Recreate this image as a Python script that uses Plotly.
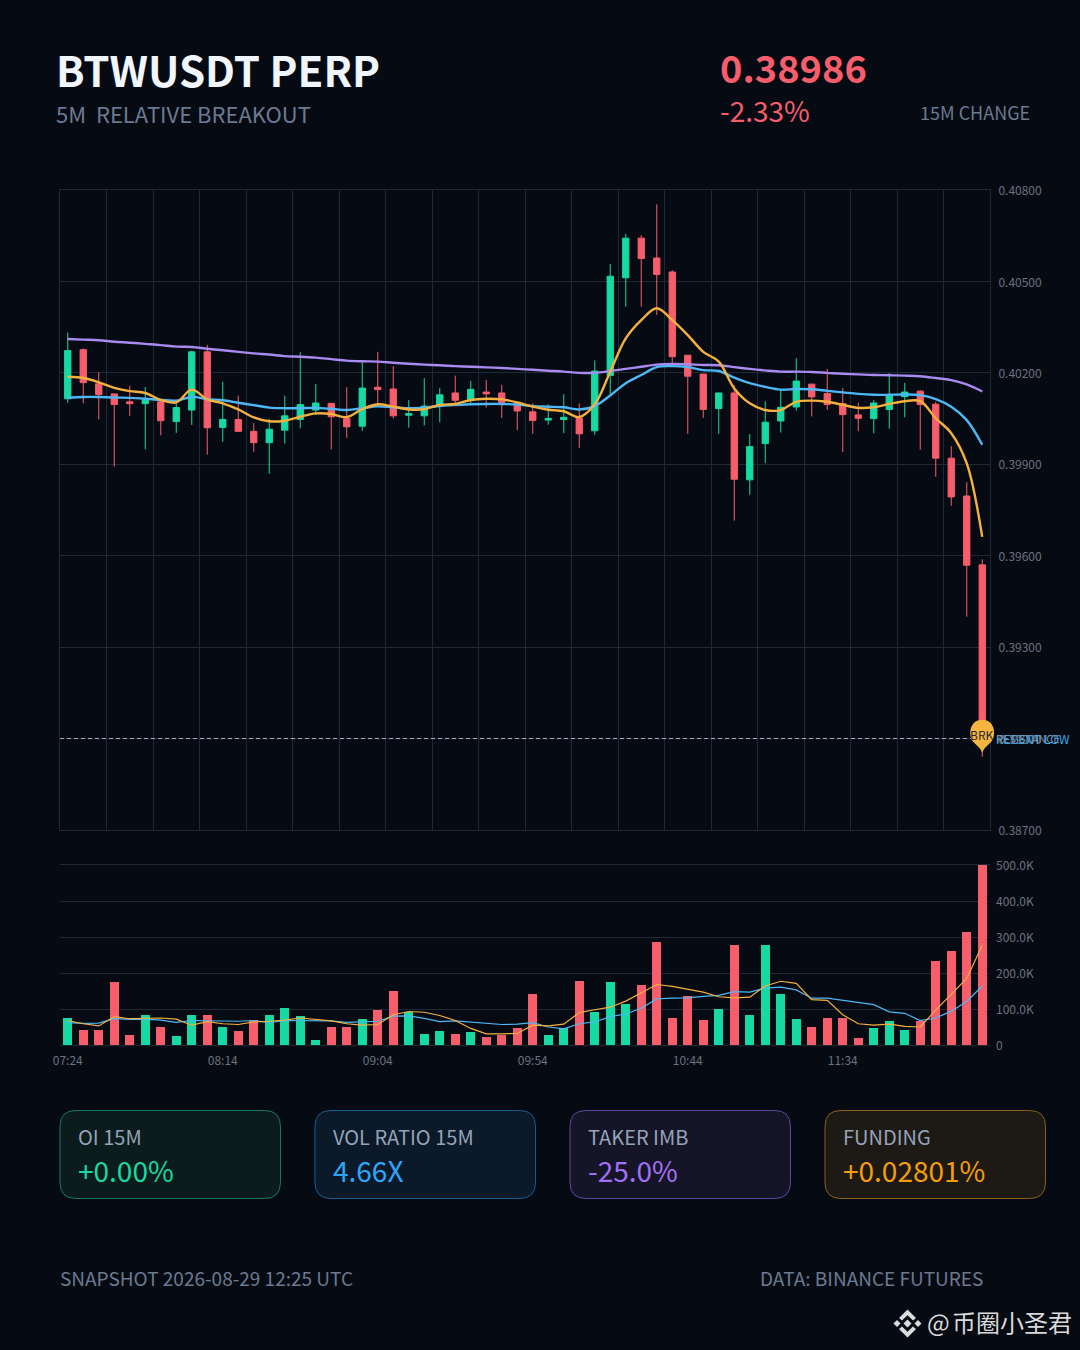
import plotly.graph_objects as go

W = 1080
H = 1350
FONT = 'Noto Sans CJK SC'

BG = '#060b13'
GRID = '#1e2937'
UP = '#16d9a3'
DOWN = '#f85d6c'
ORANGE = '#f5b03e'
BLUE = '#4db8f5'
PURPLE = '#a98bf0'
MUTED = '#6b7a90'

# plot edges in page pixels
LEFT, RIGHT = 60, 990
PRICE_TOP, PRICE_BOTTOM = 190, 830
VOL_TOP, VOL_BOTTOM = 865, 1045
PRICE_MIN, PRICE_MAX = 0.387, 0.408

CANDLE_OPEN = [
    0.40115, 0.40276, 0.40164, 0.40131, 0.40105, 0.40099, 0.40105, 0.40040, 0.40078, 0.40269,
    0.40021, 0.40047, 0.40008, 0.39971, 0.40012, 0.40047, 0.40078, 0.40100, 0.40050, 0.40025,
    0.40153, 0.40147, 0.40061, 0.40059, 0.40095, 0.40134, 0.40113, 0.40137, 0.40134, 0.40100,
    0.40072, 0.40045, 0.40047, 0.40052, 0.40010, 0.40191, 0.40512, 0.40642, 0.40577, 0.40531,
    0.40258, 0.40196, 0.40083, 0.40134, 0.39849, 0.39968, 0.40042, 0.40088, 0.40163, 0.40132,
    0.40099, 0.40062, 0.40050, 0.40080, 0.40122, 0.40140, 0.40097, 0.39920, 0.39796, 0.39570,
]
CANDLE_HIGH = [
    0.40332, 0.40280, 0.40202, 0.40131, 0.40158, 0.40153, 0.40105, 0.40100, 0.40273, 0.40292,
    0.40171, 0.40125, 0.40035, 0.40049, 0.40125, 0.40268, 0.40163, 0.40100, 0.40153, 0.40237,
    0.40269, 0.40222, 0.40111, 0.40183, 0.40150, 0.40191, 0.40174, 0.40177, 0.40160, 0.40100,
    0.40100, 0.40097, 0.40130, 0.40100, 0.40241, 0.40557, 0.40656, 0.40652, 0.40753, 0.40537,
    0.40258, 0.40196, 0.40134, 0.40160, 0.39999, 0.40107, 0.40144, 0.40248, 0.40163, 0.40213,
    0.40150, 0.40102, 0.40111, 0.40199, 0.40167, 0.40143, 0.40105, 0.39959, 0.39841, 0.39588,
]
CANDLE_LOW = [
    0.40102, 0.40100, 0.40047, 0.39892, 0.40059, 0.39949, 0.39995, 0.40003, 0.40029, 0.39932,
    0.39974, 0.40008, 0.39941, 0.39869, 0.39968, 0.40018, 0.40062, 0.39949, 0.39987, 0.40010,
    0.40095, 0.40050, 0.40020, 0.40028, 0.40038, 0.40091, 0.40095, 0.40086, 0.40052, 0.40012,
    0.40000, 0.40030, 0.40002, 0.39954, 0.39997, 0.40124, 0.40417, 0.40417, 0.40390, 0.40224,
    0.40000, 0.40052, 0.40000, 0.39715, 0.39800, 0.39904, 0.40004, 0.40076, 0.40057, 0.40078,
    0.39940, 0.40009, 0.40002, 0.40017, 0.40054, 0.39948, 0.39859, 0.39764, 0.39400, 0.38940,
]
CANDLE_CLOSE = [
    0.40273, 0.40168, 0.40129, 0.40096, 0.40099, 0.40110, 0.40043, 0.40086, 0.40269, 0.40020,
    0.40047, 0.40008, 0.39971, 0.40015, 0.40059, 0.40096, 0.40101, 0.40056, 0.40023, 0.40150,
    0.40145, 0.40059, 0.40066, 0.40091, 0.40128, 0.40110, 0.40146, 0.40131, 0.40103, 0.40075,
    0.40044, 0.40050, 0.40054, 0.40000, 0.40206, 0.40517, 0.40642, 0.40575, 0.40523, 0.40253,
    0.40189, 0.40080, 0.40134, 0.39851, 0.39958, 0.40038, 0.40087, 0.40173, 0.40121, 0.40096,
    0.40063, 0.40051, 0.40101, 0.40125, 0.40137, 0.40096, 0.39920, 0.39793, 0.39569, 0.38986,
]
MA_FAST = [
    0.40187, 0.40183, 0.40169, 0.40151, 0.40140, 0.40134, 0.40111, 0.40103, 0.40145, 0.40113,
    0.40100, 0.40080, 0.40054, 0.40041, 0.40043, 0.40056, 0.40067, 0.40065, 0.40055, 0.40081,
    0.40097, 0.40089, 0.40080, 0.40081, 0.40095, 0.40098, 0.40111, 0.40115, 0.40113, 0.40103,
    0.40089, 0.40079, 0.40074, 0.40055, 0.40097, 0.40204, 0.40313, 0.40373, 0.40412, 0.40373,
    0.40324, 0.40269, 0.40237, 0.40149, 0.40100, 0.40078, 0.40078, 0.40105, 0.40109, 0.40105,
    0.40095, 0.40085, 0.40087, 0.40098, 0.40107, 0.40107, 0.40051, 0.40002, 0.39903, 0.39662,
]
MA_MID = [
    0.40118, 0.40121, 0.40121, 0.40119, 0.40118, 0.40115, 0.40111, 0.40109, 0.40121, 0.40114,
    0.40110, 0.40102, 0.40094, 0.40086, 0.40084, 0.40084, 0.40085, 0.40082, 0.40078, 0.40084,
    0.40090, 0.40087, 0.40084, 0.40086, 0.40091, 0.40095, 0.40097, 0.40098, 0.40098, 0.40096,
    0.40091, 0.40089, 0.40087, 0.40080, 0.40091, 0.40126, 0.40166, 0.40193, 0.40219, 0.40222,
    0.40219, 0.40209, 0.40206, 0.40184, 0.40166, 0.40154, 0.40145, 0.40147, 0.40146, 0.40141,
    0.40136, 0.40131, 0.40128, 0.40128, 0.40129, 0.40127, 0.40114, 0.40089, 0.40045, 0.39964,
]
MA_SLOW = [
    0.40311, 0.40309, 0.40307, 0.40302, 0.40299, 0.40295, 0.40291, 0.40286, 0.40285, 0.40279,
    0.40274, 0.40269, 0.40264, 0.40260, 0.40255, 0.40253, 0.40250, 0.40245, 0.40240, 0.40238,
    0.40237, 0.40233, 0.40230, 0.40227, 0.40225, 0.40222, 0.40220, 0.40218, 0.40216, 0.40213,
    0.40210, 0.40207, 0.40204, 0.40200, 0.40200, 0.40206, 0.40213, 0.40220, 0.40227, 0.40229,
    0.40228, 0.40226, 0.40225, 0.40219, 0.40213, 0.40208, 0.40204, 0.40204, 0.40203, 0.40200,
    0.40197, 0.40195, 0.40193, 0.40192, 0.40191, 0.40189, 0.40183, 0.40176, 0.40162, 0.40139,
]
# volume in thousands
VOLUME = [
    75, 43, 43, 174, 29, 82, 50, 24, 83, 83,
    50, 40, 69, 84, 103, 81, 15, 50, 50, 73,
    97, 151, 93, 30, 40, 31, 35, 22, 27, 48,
    141, 28, 46, 177, 92, 176, 113, 167, 286, 74,
    136, 70, 101, 278, 82, 278, 143, 73, 49, 75,
    74, 20, 48, 68, 41, 68, 232, 262, 315, 500,
]
VOL_MA_FAST = [
    68, 59, 53, 79, 73, 75, 75, 72, 55, 65,
    59, 57, 64, 66, 69, 75, 70, 67, 59, 55,
    57, 84, 93, 91, 82, 68, 46, 31, 31, 32,
    55, 53, 58, 90, 98, 105, 122, 146, 168, 163,
    156, 147, 134, 131, 133, 164, 177, 171, 126, 124,
    84, 59, 55, 58, 52, 50, 97, 141, 185, 277,
]
VOL_MA_SLOW = [
    62, 60, 61, 73, 71, 72, 69, 63, 68, 67,
    66, 66, 68, 62, 68, 68, 67, 67, 63, 64,
    66, 80, 81, 74, 65, 67, 63, 60, 57, 58,
    62, 50, 45, 59, 64, 79, 86, 102, 128, 130,
    131, 135, 138, 148, 147, 158, 161, 153, 130, 130,
    124, 119, 112, 92, 88, 68, 75, 94, 121, 164,
]
TIME_LABELS = ['07:24', '08:14', '09:04', '09:54', '10:44', '11:34']
TIME_INDEX = [0, 10, 20, 30, 40, 50]
PRICE_TICKS = [0.387, 0.390, 0.393, 0.396, 0.399, 0.402, 0.405, 0.408]
VOL_TICKS = [0, 100, 200, 300, 400, 500]
VOL_TICK_LABELS = ['0', '100.0K', '200.0K', '300.0K', '400.0K', '500.0K']
RECENT_LOW = 0.39

CARD_TITLES = ['OI 15M', 'VOL RATIO 15M', 'TAKER IMB', 'FUNDING']
CARD_VALUES = ['+0.00%', '4.66X', '-25.0%', '+0.02801%']
CARD_LEFT = [60, 315, 570, 825]
CARD_COLORS = ['#16d9a3', '#2ea6f7', '#a070f5', '#f59e0b']
CARD_FILLS = ['#0c1c1c', '#0b1929', '#161528', '#1d1915']
CARD_BORDERS = ['#127c62', '#1b5d90', '#5c4a9e', '#8c5f1c']


def px(x):
    return x / W


def py(y):
    return 1 - y / H


def text(label, x, y, size, color, anchor='left', bold=False):
    # annotations sit about 2px in from the anchor, so pull them back
    x = x - 2 if anchor == 'left' else x + 2
    return dict(text='<b>%s</b>' % label if bold else label, xref='paper', yref='paper',
                x=px(x), y=py(y - 2), xanchor=anchor, yanchor='middle', showarrow=False,
                font=dict(family=FONT, size=size, color=color))


def rounded(x0, y0, x1, y1, r):
    pts = [('M', x0 + r, y0), ('L', x1 - r, y0), ('Q', x1, y0, x1, y0 + r), ('L', x1, y1 - r),
           ('Q', x1, y1, x1 - r, y1), ('L', x0 + r, y1), ('Q', x0, y1, x0, y1 - r),
           ('L', x0, y0 + r), ('Q', x0, y0, x0 + r, y0)]
    path = ''
    for p in pts:
        coords = ['%.5f,%.5f' % (px(p[i]), py(p[i + 1])) for i in range(1, len(p), 2)]
        path += p[0] + ' '.join(coords) + ' '
    return path + 'Z'


def polygon(points):
    return 'M' + ' L'.join('%.5f,%.5f' % (px(a), py(b)) for a, b in points) + ' Z'


def logo_shapes(cx, cy):
    color = '#dcdcdc'
    parts = [
        [(cx, cy - 4), (cx + 4, cy), (cx, cy + 4), (cx - 4, cy)],
        [(cx - 14, cy), (cx - 10.5, cy - 3.5), (cx - 7, cy), (cx - 10.5, cy + 3.5)],
        [(cx + 14, cy), (cx + 10.5, cy - 3.5), (cx + 7, cy), (cx + 10.5, cy + 3.5)],
        [(cx, cy - 14), (cx + 8.5, cy - 5.5), (cx + 5.5, cy - 3), (cx, cy - 8.2), (cx - 5.5, cy - 3), (cx - 8.5, cy - 5.5)],
        [(cx, cy + 14), (cx + 8.5, cy + 5.5), (cx + 5.5, cy + 3), (cx, cy + 8.2), (cx - 5.5, cy + 3), (cx - 8.5, cy + 5.5)],
    ]
    return [dict(type='path', xref='paper', yref='paper', path=polygon(p), fillcolor=color, line=dict(width=0))
            for p in parts]


def pin_path(cx, tip):
    # drop shaped pin, its circle sits 24px above the tip (shapes on axes would be clipped)
    segs = [
        ('M', (0, 0)),
        ('C', (-1.5, -5), (-6, -8), (-9, -11.2)),
        ('C', (-14, -16), (-13.5, -33), (0, -33)),
        ('C', (13.5, -33), (14, -16), (9, -11.2)),
        ('C', (6, -8), (1.5, -5), (0, 0)),
    ]
    path = ''
    for seg in segs:
        path += seg[0] + ' '.join('%.5f,%.5f' % (px(cx + a), py(tip + b)) for a, b in seg[1:]) + ' '
    return path + 'Z'


index = list(range(len(VOLUME)))
bar_colors = [UP if c >= o else DOWN for o, c in zip(CANDLE_OPEN, CANDLE_CLOSE)]

fig = go.Figure()
fig.add_trace(go.Candlestick(
    x=index, open=CANDLE_OPEN, high=CANDLE_HIGH, low=CANDLE_LOW, close=CANDLE_CLOSE,
    increasing=dict(line=dict(color=UP, width=1), fillcolor=UP),
    decreasing=dict(line=dict(color=DOWN, width=1), fillcolor=DOWN),
    whiskerwidth=0, xaxis='x', yaxis='y'))
for values, color in [(MA_SLOW, PURPLE), (MA_MID, BLUE), (MA_FAST, ORANGE)]:
    fig.add_trace(go.Scatter(x=index, y=values, mode='lines', xaxis='x', yaxis='y',
                             line=dict(color=color, width=2.4, shape='spline', smoothing=1)))
fig.add_trace(go.Bar(x=index, y=VOLUME, width=0.56, marker=dict(color=bar_colors, line=dict(width=0)),
                     xaxis='x2', yaxis='y2'))
for values, color in [(VOL_MA_SLOW, BLUE), (VOL_MA_FAST, ORANGE)]:
    fig.add_trace(go.Scatter(x=index, y=values, mode='lines', xaxis='x2', yaxis='y2',
                             line=dict(color=color, width=1.2)))

# where the last candle's low lands on the page
pin_x = LEFT + (RIGHT - LEFT) * (index[-1] + 0.5) / len(index)
pin_tip = PRICE_TOP + (PRICE_MAX - CANDLE_LOW[-1]) / (PRICE_MAX - PRICE_MIN) * (PRICE_BOTTOM - PRICE_TOP) - 4

shapes = []
# recent low marker line
shapes.append(dict(type='line', xref='x', yref='y', x0=-0.5, x1=59.5, y0=RECENT_LOW, y1=RECENT_LOW,
                   line=dict(color='#9fb3c8', width=1, dash='4px,3px')))
shapes.append(dict(type='path', xref='paper', yref='paper', path=pin_path(pin_x, pin_tip),
                   fillcolor='#f5b33f', line=dict(width=0)))
for i in range(4):
    shapes.append(dict(type='path', xref='paper', yref='paper',
                       path=rounded(CARD_LEFT[i], 1110.5, CARD_LEFT[i] + 220.5, 1198.5, 16),
                       fillcolor=CARD_FILLS[i], line=dict(color=CARD_BORDERS[i], width=1)))
shapes += logo_shapes(907.5, 1323.5)

notes = [
    text('BTWUSDT PERP', 56, 70, 42, '#f1f5fd', bold=True),
    text('5M\u00a0\u00a0RELATIVE BREAKOUT', 56, 115, 22, MUTED),
    text('0.38986', 720, 69, 38, DOWN, bold=True),
    text('-2.33%', 720, 112, 28, DOWN),
    text('15M CHANGE', 1030, 114, 18, MUTED, anchor='right'),
    text('SNAPSHOT 2026-08-29 12:25 UTC', 60, 1279, 19, MUTED),
    text('DATA: BINANCE FUTURES', 983, 1279, 19, MUTED, anchor='right'),
    text('@', 927, 1323, 24, '#d9d9d9'),
    text('币圈小圣君', 1072, 1323, 24, '#d9d9d9', anchor='right'),
    # the two overlapping labels on the dashed line
    text('RECENT LOW', 996, 740.5, 12, '#38a8ec'),
    text('RESISTANCE', 996, 740.5, 11, '#7b93ad'),
    text('BRK', pin_x + 2, pin_tip - 16.5, 12, '#2a2a33', anchor='center'),
]
notes[-1]['x'] = px(pin_x)
for i in range(4):
    notes.append(text(CARD_TITLES[i], CARD_LEFT[i] + 18, 1138, 20, '#94a3b8'))
    notes.append(text(CARD_VALUES[i], CARD_LEFT[i] + 18, 1172, 28, CARD_COLORS[i]))

tick_font = dict(family=FONT, size=12, color='#6b7280')
fig.update_layout(
    width=W, height=H, margin=dict(l=0, r=0, t=0, b=0, autoexpand=False), autosize=False,
    paper_bgcolor=BG, plot_bgcolor=BG, showlegend=False, boxgap=0.42, bargap=0,
    shapes=shapes, annotations=notes,
    xaxis=dict(domain=[px(LEFT), px(RIGHT)], range=[-0.5, 59.5], tick0=-0.5, dtick=3, type='linear',
               showticklabels=False, gridcolor=GRID, gridwidth=1, zeroline=False, ticks='',
               showline=True, mirror=True, linecolor=GRID,
               rangeslider=dict(visible=False), anchor='y', automargin=False),
    yaxis=dict(domain=[py(PRICE_BOTTOM), py(PRICE_TOP)], range=[PRICE_MIN, PRICE_MAX], side='right',
               tickvals=PRICE_TICKS, tickformat='.5f', gridcolor=GRID, gridwidth=1, zeroline=False, ticks='',
               showline=True, mirror=True, linecolor=GRID,
               tickfont=tick_font, ticklabelstandoff=5, ticklabelshift=1, anchor='x', automargin=False),
    xaxis2=dict(domain=[px(LEFT), px(RIGHT)], range=[-0.5, 59.5], tickvals=TIME_INDEX, ticktext=TIME_LABELS,
                type='linear', showgrid=False, zeroline=False, showline=True, mirror=True, linecolor=GRID,
                ticks='', tickfont=tick_font, anchor='y2', ticklabelstandoff=5, automargin=False),
    yaxis2=dict(domain=[py(VOL_BOTTOM), py(VOL_TOP)], range=[0, 500], side='right', tickvals=VOL_TICKS,
                ticktext=VOL_TICK_LABELS, gridcolor=GRID, gridwidth=1, zeroline=False, ticks='',
                tickfont=tick_font, ticklabelstandoff=5, ticklabelshift=1, anchor='x2', automargin=False),
)

fig.write_html('out.html', config=dict(displayModeBar=False),
               post_script="document.body.style.margin='0';document.body.style.background='%s';" % BG)
